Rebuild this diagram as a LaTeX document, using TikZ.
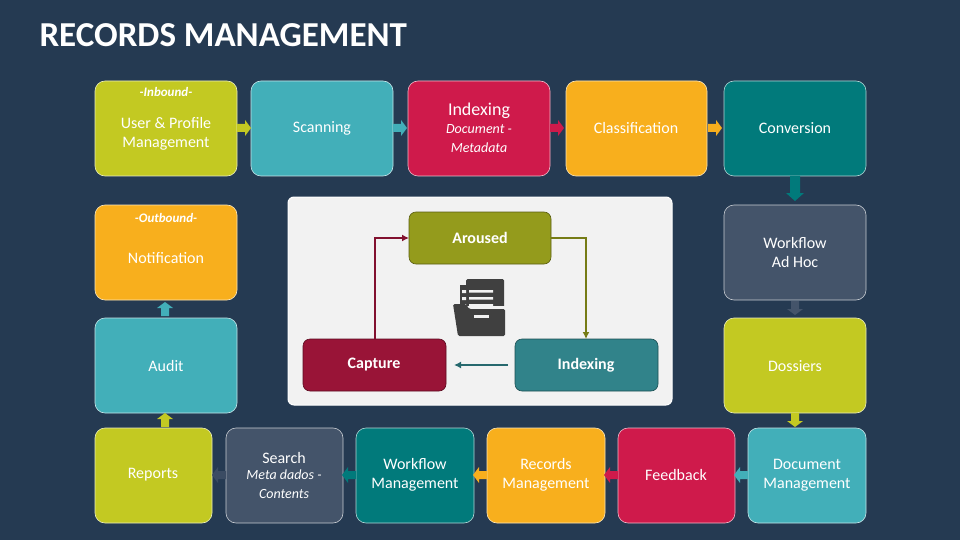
\documentclass[tikz,border=0pt]{standalone}
\usepackage{fontspec}
\setmainfont{Carlito}
\usetikzlibrary{arrows.meta}
\definecolor{bg}{HTML}{253A52}
\definecolor{lime}{HTML}{C3C922}
\definecolor{lteal}{HTML}{42AFB9}
\definecolor{crim}{HTML}{CF1A4B}
\definecolor{orng}{HTML}{F8AF1D}
\definecolor{dteal}{HTML}{017A7B}
\definecolor{slate}{HTML}{44546A}
\definecolor{olive}{HTML}{949B1C}
\definecolor{wine}{HTML}{991437}
\definecolor{cteal}{HTML}{31838A}
\definecolor{icon}{HTML}{404040}
\tikzset{
 box/.style={rounded corners=10pt, draw=white!70!#1, line width=0.6pt, fill=#1},
 btxt/.style={text=white, font=\fontsize{16}{19}\selectfont, align=center},
 inner/.style={rounded corners=7pt, draw=black!40!#1, line width=0.6pt, fill=#1},
 itxt/.style={text=white, font=\bfseries\fontsize{16}{18}\selectfont},
 blk/.pic={\fill[pic actions] (-7,-4) -- (1,-4) -- (1,-8) -- (7,0) -- (1,8) -- (1,4) -- (-7,4) -- cycle;},
 blklong/.pic={\fill[pic actions] (-13,-5) -- (4,-5) -- (4,-9) -- (12,0) -- (4,9) -- (4,5) -- (-13,5) -- cycle;},
}
\begin{document}
\begin{tikzpicture}[x=1pt,y=-1pt]
\fill[bg] (0,0) rectangle (960,540);
\useasboundingbox (0,0) rectangle (960,540);
\node[anchor=west, text=white, font=\bfseries\fontsize{35}{38}\selectfont] (title) at (36,35) {RECORDS MANAGEMENT};
% row 1
\fill[box=lime] (95,81) rectangle (237,176);
\node[btxt] (b1) at (166,134) {User \& Profile\\Management};
\node[btxt, font=\bfseries\itshape\fontsize{13}{15}\selectfont] (b1t) at (166,92) {-Inbound-};
\fill[box=lteal] (251,81) rectangle (393,176);
\node[btxt] (b2) at (322,128) {Scanning};
\fill[box=crim] (408,81) rectangle (550,176);
\node[btxt] (b3) at (479,111) {\fontsize{18}{20}\selectfont Indexing};
\node[btxt, font=\itshape\fontsize{14}{19}\selectfont] (b3s) at (479,139) {Document -\\Metadata};
\fill[box=orng] (566,81) rectangle (707,176);
\node[btxt] (b4) at (636,128) {Classification};
\fill[box=dteal] (724,81) rectangle (866,176);
\node[btxt] (b5) at (795,128) {Conversion};
% right column
\fill[box=slate] (724,205) rectangle (866,300);
\node[btxt] (b6) at (795,252) {Workflow\\Ad Hoc};
\fill[box=lime] (724,318) rectangle (866,413);
\node[btxt] (b7) at (795,366) {Dossiers};
% bottom row
\fill[box=lteal] (748,428) rectangle (866,523);
\node[btxt] (b8) at (807,475) {Document\\Management};
\fill[box=crim] (618,428) rectangle (735,523);
\node[btxt] (b9) at (676,475) {Feedback};
\fill[box=orng] (487,428) rectangle (605,523);
\node[btxt] (b10) at (546,475) {Records\\Management};
\fill[box=dteal] (356,428) rectangle (474,523);
\node[btxt] (b11) at (415,475) {Workflow\\Management};
\fill[box=slate] (226,428) rectangle (343,523);
\node[btxt] (b12) at (284,458) {Search};
\node[btxt, font=\itshape\fontsize{14}{19}\selectfont] (b12s) at (284,484) {Meta dados -\\Contents};
\fill[box=lime] (95,428) rectangle (212,523);
\node[btxt] (b13) at (153,475) {Reports};
% left column
\fill[box=lteal] (95,318) rectangle (237,413);
\node[btxt] (b14) at (166,366) {Audit};
\fill[box=orng] (95,205) rectangle (237,300);
\node[btxt] (b15) at (166,258) {Notification};
\node[btxt, font=\bfseries\itshape\fontsize{13}{15}\selectfont] (b15t) at (166,218) {-Outbound-};
% arrows
\pic[fill=lime] at (244,128) {blk};
\pic[fill=lteal] at (400,128) {blk};
\pic[fill=crim] at (557,128) {blk};
\pic[fill=orng] at (715,128) {blk};
\pic[fill=dteal, rotate=-90] at (795,189) {blklong};
\pic[fill=slate, rotate=-90] at (795,308) {blk};
\pic[fill=lime, rotate=-90] at (795,420) {blk};
\pic[fill=lteal, rotate=180] at (741,475) {blk};
\pic[fill=crim, rotate=180] at (611,475) {blk};
\pic[fill=orng, rotate=180] at (480,475) {blk};
\pic[fill=dteal, rotate=180] at (349,475) {blk};
\pic[fill=slate!70!bg, rotate=180] at (219,475) {blk};
\pic[fill=lime, rotate=90] at (165,420) {blk};
\pic[fill=lteal, rotate=90] at (165,309) {blk};
% center panel
\fill[rounded corners=6pt, fill=black!5, draw=white, line width=1pt] (288,197) rectangle (672,405);
\fill[inner=olive] (409,212) rectangle (551,264);
\node[itxt] (ar) at (480,238) {Aroused};
\fill[inner=wine] (303,339) rectangle (446,391);
\node[itxt] (ca) at (374,365) {Capture};
\fill[inner=cteal] (515,339) rectangle (658,391);
\node[itxt] (ix) at (586,365) {Indexing};
\coordinate (arR) at (551,238); \coordinate (arL) at (409,238);
\coordinate (ixT) at (586,339); \coordinate (caT) at (375,339);
\coordinate (ixL) at (508,365); \coordinate (caR) at (454,365);
\draw[-{Latex[length=7pt,width=7pt]}, olive!80!black, line width=2pt] (arR) -| (ixT);
\draw[-{Latex[length=7pt,width=7pt]}, wine!85!black, line width=2pt] (caT) |- (arL);
\draw[-{Latex[length=7pt,width=7pt]}, cteal!80!black, line width=2pt] (ixL) -- (caR);
% icon
\fill[icon, rounded corners=1.5pt] (466,279) rectangle (504,312);
\fill[icon] (460,285) rectangle (498,318);
\fill[black!5] (462,290) rectangle (466,293) (469,290) rectangle (493,292.5)
  (462,297) rectangle (466,300) (469,297) rectangle (493,299.5)
  (462,304) rectangle (466,307) (469,304) rectangle (493,306.5);
\fill[black!5] (451,306) rectangle (508,336);
\fill[icon, rounded corners=1.5pt] (453,304) -- (466,304) -- (469,309) -- (505,309) -- (505,336) -- (458,336) -- cycle;
\fill[black!5] (474,315) rectangle (489,318);
\end{tikzpicture}
\end{document}
